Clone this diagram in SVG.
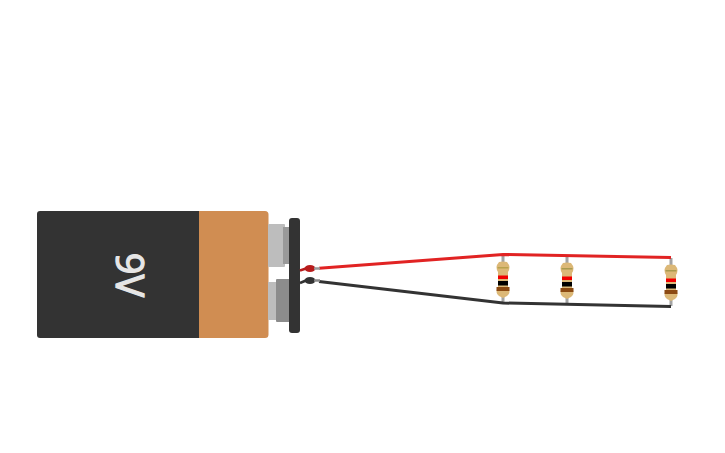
<svg xmlns="http://www.w3.org/2000/svg" width="725" height="453" viewBox="0 0 725 453">
<style>
.lead{fill:#a3a3a3}
.body{fill:#dcb877}
.wr{fill:none;stroke:#e12323;stroke-width:3}
.wb{fill:none;stroke:#333;stroke-width:3}
.lbl{font-family:"Open Sans","Liberation Sans",sans-serif;font-size:38px;font-weight:400;fill:#e6e6e6;stroke:#e6e6e6;stroke-width:1.300;stroke-linejoin:round}
</style>
<defs>
<g id="res">
<rect class="lead" x="-1.500" y="-15" width="3" height="48"/>
<path class="body" d="M-4-8Q0-9 4-8Q6.500-5 6.500-3Q6.500 0 5 2V17Q6.500 19 6.500 22Q6.500 24 4 26L0 28L-4 26Q-6.500 24-6.500 22Q-6.500 19-5 17V2Q-6.500 0-6.500-3Q-6.500-5-4-8Z"/>
<rect x="-5" y="5.500" width="10" height="3.500" fill="#f00000"/>
<rect x="-5" y="11" width="10" height="4.500" fill="#000"/>
<rect x="-6.500" y="17" width="13" height="4" fill="#8c4a12"/>
</g>
</defs>
<g id="battery">
<rect x="37" y="211" width="170" height="127" rx="3" fill="#333"/>
<path d="M199 211H265a3.500 3.500 0 0 1 3.500 3.500V334.500a3.500 3.500 0 0 1-3.500 3.500H199Z" fill="#d08d52"/>
<rect x="268" y="224" width="17" height="43" rx="1" fill="#bdbdbd"/>
<rect x="283" y="227" width="7" height="37" fill="#999"/>
<rect x="268" y="282" width="10" height="38" fill="#bdbdbd"/>
<rect x="276" y="279" width="14" height="43" rx="1" fill="#8c8c8c"/>
<rect x="289" y="218" width="11" height="115" rx="3" fill="#333"/>
<text class="lbl" transform="translate(116 275) rotate(90)" text-anchor="middle">9V</text>
</g>
<g id="resistor1"><use href="#res" x="503" y="270"/><rect x="497.500" y="267" width="11" height="1.500" fill="#b8a24d"/></g>
<g id="resistor2"><use href="#res" x="567" y="271"/><rect x="561.500" y="268" width="11" height="1.500" fill="#a89a4f"/></g>
<g id="resistor3"><use href="#res" x="671" y="273"/><rect x="665.500" y="270" width="11" height="1.500" fill="#a89a4f"/></g>
<g id="connectors">
<path class="wr" d="M319 268.200L503 254.500L671 257.500"/>
<path class="wb" d="M319 281.400L503 303L671 306.500"/>
<path d="M300 270.500L306 268.500" stroke="#b81c1c" stroke-width="2.500" fill="none"/>
<path d="M300 283L306 280.500" stroke="#333" stroke-width="2.500" fill="none"/>
<ellipse cx="310" cy="268.500" rx="5.500" ry="3.500" fill="#b81c1c"/>
<ellipse cx="310" cy="280.500" rx="5.500" ry="3.500" fill="#333"/>
<path d="M314 268.500H320" stroke="#999" stroke-width="2.500" fill="none"/>
<path d="M314 280.500H320" stroke="#888" stroke-width="2.500" fill="none"/>
</g>
</svg>
